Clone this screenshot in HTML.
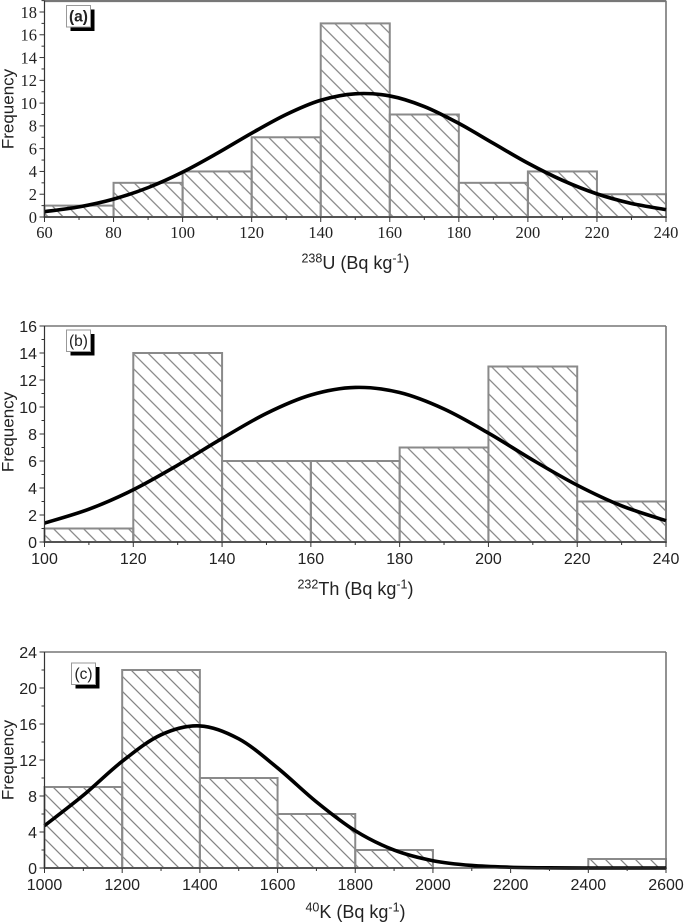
<!DOCTYPE html>
<html lang="en">
<head>
<meta charset="utf-8">
<title>Frequency histograms of 238U, 232Th and 40K</title>
<style>
html,body{margin:0;padding:0;background:#fff;width:685px;height:924px;overflow:hidden}
svg{display:block}
</style>
</head>
<body>
<svg id="chart" xmlns="http://www.w3.org/2000/svg" width="685" height="924" viewBox="0 0 685 924">
<defs id="defs"></defs>
</svg>
<script>
// Panel (a) data
const aBinEdges = [60,80,100,120,140,160,180,200,220,240];
const aCounts = [1,3,4,7,17,9,3,4,2];
const aCurveX = [60,70,80,90,100,110,120,130,140,150,160,170,180,190,200,210,220,230,240];
const aCurveY = [0.47,0.89,1.57,2.58,3.94,5.59,7.36,9.0,10.25,10.82,10.63,9.7,8.22,6.47,4.73,3.22,2.03,1.19,0.65];
const aXTicks = [60,80,100,120,140,160,180,200,220,240];
const aYTicks = [0,2,4,6,8,10,12,14,16,18];

// Panel (b) data
const bBinEdges = [100,120,140,160,180,200,220,240];
const bCounts = [1,14,6,6,7,13,3];
const bCurveX = [100,110,120,130,140,150,160,170,180,190,200,210,220,230,240];
const bCurveY = [1.4,2.43,3.87,5.69,7.67,9.53,10.89,11.45,11.07,9.85,8.07,6.07,4.21,2.68,1.58];
const bXTicks = [100,120,140,160,180,200,220,240];
const bYTicks = [0,2,4,6,8,10,12,14,16];

// Panel (c) data
const cBinEdges = [1000,1200,1400,1600,1800,2000,2200,2400,2600];
const cCounts = [9,22,10,6,2,0,0,1];
const cCurveX = [1000,1100,1200,1300,1400,1500,1600,1700,1800,1900,2000,2100,2200,2300,2400,2500,2600];
const cCurveY = [4.7,8.08,11.85,14.8,15.79,14.35,11.12,7.35,4.14,1.99,0.81,0.28,0.085,0.02,0,0,0];
const cXTicks = [1000,1200,1400,1600,1800,2000,2200,2400,2600];
const cYTicks = [0,4,8,12,16,20,24];

const NS = 'http://www.w3.org/2000/svg';
const svg = document.getElementById('chart');
const defs = document.getElementById('defs');
const SERIF = '"Liberation Serif", serif';
const SANS = '"Liberation Sans", sans-serif';

function mk(parent, tag, props, text) {
  const el = document.createElementNS(NS, tag);
  for (const k in props) el.setAttribute(k, props[k]);
  if (text !== undefined) el.textContent = text;
  parent.appendChild(el);
  return el;
}

function smoothPath(pts) {
  let d = 'M' + pts[0][0].toFixed(2) + ',' + pts[0][1].toFixed(2);
  for (let i = 0; i < pts.length - 1; i++) {
    const p0 = pts[Math.max(0, i - 1)], p1 = pts[i], p2 = pts[i + 1], p3 = pts[Math.min(pts.length - 1, i + 2)];
    const c1x = p1[0] + (p2[0] - p0[0]) / 6, c1y = p1[1] + (p2[1] - p0[1]) / 6;
    const c2x = p2[0] - (p3[0] - p1[0]) / 6, c2y = p2[1] - (p3[1] - p1[1]) / 6;
    d += ' C' + c1x.toFixed(2) + ',' + c1y.toFixed(2) + ' ' + c2x.toFixed(2) + ',' + c2y.toFixed(2) + ' ' + p2[0].toFixed(2) + ',' + p2[1].toFixed(2);
  }
  return d;
}

function drawPanel(cfg) {
  const g = mk(svg, 'g', {});
  
  

  const pat = mk(defs, 'pattern', {id: 'hatch-' + cfg.id, patternUnits: 'userSpaceOnUse', width: 15, height: 15, patternTransform: 'translate(0 ' + cfg.hatchOffset + ')'});
  
  
  mk(pat, 'path', {d: 'M-4,-4 L19,19 M-4,11 L4,19 M11,-4 L19,4', stroke: '#858585', 'stroke-width': 1.25, fill: 'none'});

  const sx = v => cfg.left + (v - cfg.xMin) / (cfg.xMax - cfg.xMin) * (cfg.right - cfg.left);
  const sy = v => cfg.bottom - v / cfg.yTickMax * (cfg.bottom - cfg.yTickTop);
  const top = sy(cfg.yMax);

  // bars
  cfg.counts.forEach((c, i) => {
    if (c <= 0) return;
    const x0 = sx(cfg.edges[i]), x1 = sx(cfg.edges[i + 1]), y = sy(c);
    const bar = mk(g, 'rect', {x: x0, y: y, width: x1 - x0, height: cfg.bottom - y, fill: 'url(#hatch-' + cfg.id + ')', stroke: '#8a8a8a', 'stroke-width': 2});
    
    
  });

  // frame
  const frameTop = mk(g, 'line', {x1: cfg.left, x2: cfg.right, y1: top, y2: top, stroke: '#777', 'stroke-width': cfg.topWidth});
  
  
  const frameRight = mk(g, 'line', {x1: cfg.right, x2: cfg.right, y1: top, y2: cfg.bottom, stroke: '#777', 'stroke-width': 1.6});
  
  

  // curve
  const pts = cfg.curveX.map((x, i) => [sx(x), sy(cfg.curveY[i])]);
  const curve = mk(g, 'path', {d: smoothPath(pts), fill: 'none', stroke: '#000', 'stroke-width': 3.6, 'stroke-linejoin': 'round'});
  
  

  // axes
  const xAxis = mk(g, 'line', {x1: cfg.left - 0.5, x2: cfg.right + 0.5, y1: cfg.bottom, y2: cfg.bottom, stroke: '#333', 'stroke-width': 1.3});
  
  
  const yAxis = mk(g, 'line', {x1: cfg.left, x2: cfg.left, y1: top, y2: cfg.bottom, stroke: '#333', 'stroke-width': 1.2});
  
  

  // x ticks
  cfg.xTicks.forEach((t, i) => {
    const x = sx(t);
    mk(g, 'line', {x1: x, x2: x, y1: cfg.bottom, y2: cfg.bottom + 5, stroke: '#333', 'stroke-width': 1});
    if (i < cfg.xTicks.length - 1) {
      const mx = sx((t + cfg.xTicks[i + 1]) / 2);
      mk(g, 'line', {x1: mx, x2: mx, y1: cfg.bottom, y2: cfg.bottom + 3, stroke: '#333', 'stroke-width': 1});
    }
    const lbl = mk(g, 'text', {x: x, y: cfg.bottom + cfg.xLabelGap, 'text-anchor': 'middle', 'font-family': cfg.font, 'font-size': cfg.tickSize, fill: '#222'}, t);
    
    
  });

  // y ticks
  cfg.yTicks.forEach((t) => {
    const y = sy(t);
    mk(g, 'line', {x1: cfg.left - 5, x2: cfg.left, y1: y, y2: y, stroke: '#333', 'stroke-width': 1});
    const step = cfg.yTicks[1] - cfg.yTicks[0];
    const my = sy(t + step / 2);
    if (t + step / 2 <= cfg.yMax) {
      mk(g, 'line', {x1: cfg.left - 3, x2: cfg.left, y1: my, y2: my, stroke: '#333', 'stroke-width': 1});
    }
    const lbl = mk(g, 'text', {x: cfg.left - 7.5, y: y + 5.8, 'text-anchor': 'end', 'font-family': cfg.font, 'font-size': cfg.tickSize, fill: '#222'}, t);
    
    
  });

  // y title
  const yMid = cfg.yTitleY;
  const yTitle = mk(g, 'text', {x: 13.5, y: yMid, transform: 'rotate(-90 13.5 ' + yMid + ')', 'text-anchor': 'middle', 'font-family': SANS, 'font-size': 17, fill: '#222'}, 'Frequency');
  
  

  // x title with superscripts
  const xTitle = mk(g, 'text', {x: cfg.xTitleX, y: cfg.xTitleY, 'text-anchor': 'middle', 'font-family': SANS, 'font-size': 18, fill: '#222'});
  
  
  mk(xTitle, 'tspan', {'font-size': 12.5, dy: -6.5}, cfg.iso);
  mk(xTitle, 'tspan', {dy: 6.5}, cfg.sym + ' (Bq kg');
  mk(xTitle, 'tspan', {'font-size': 12.5, dy: -6.5}, '-1');
  mk(xTitle, 'tspan', {dy: 6.5}, ')');

  // panel label
  const lg = mk(g, 'g', {});
  
  
  mk(lg, 'rect', {x: cfg.labelX + 4, y: cfg.labelY + 4, width: 24, height: 21.5, fill: '#000'});
  mk(lg, 'rect', {x: cfg.labelX, y: cfg.labelY, width: 24, height: 21.5, fill: '#fff', stroke: '#999', 'stroke-width': 1});
  mk(lg, 'text', {x: cfg.labelX + 12, y: cfg.labelY + 16, 'text-anchor': 'middle', 'font-family': SANS, 'font-size': 15.5, 'font-weight': cfg.labelWeight, fill: '#222'}, '(' + cfg.id + ')');
}

drawPanel({id:'a', left:44.5, right:666, bottom:217, yTickTop:12, yTickMax:18, yMax:19, xMin:60, xMax:240,
  edges:aBinEdges, counts:aCounts, curveX:aCurveX, curveY:aCurveY, xTicks:aXTicks, yTicks:aYTicks,
  font:SERIF, tickSize:16.5, xLabelGap:21, topWidth:3, yTitleY:109, xTitleX:355.5, xTitleY:269, iso:'238', sym:'U',
  labelX:66.5, labelY:5.5, labelWeight:'bold', hatchOffset:3.7});
drawPanel({id:'b', left:44.5, right:666, bottom:542, yTickTop:326, yTickMax:16, yMax:16, xMin:100, xMax:240,
  edges:bBinEdges, counts:bCounts, curveX:bCurveX, curveY:bCurveY, xTicks:bXTicks, yTicks:bYTicks,
  font:SANS, tickSize:16, xLabelGap:22, topWidth:1.4, yTitleY:432, xTitleX:355.5, xTitleY:595, iso:'232', sym:'Th',
  labelX:66.5, labelY:330, labelWeight:'normal', hatchOffset:10.2});
drawPanel({id:'c', left:44.5, right:666, bottom:868, yTickTop:652, yTickMax:24, yMax:24, xMin:1000, xMax:2600,
  edges:cBinEdges, counts:cCounts, curveX:cCurveX, curveY:cCurveY, xTicks:cXTicks, yTicks:cYTicks,
  font:SANS, tickSize:16, xLabelGap:22, topWidth:1.4, yTitleY:760, xTitleX:355.5, xTitleY:918, iso:'40', sym:'K',
  labelX:71.5, labelY:663, labelWeight:'normal', hatchOffset:14});
</script>
</body>
</html>
